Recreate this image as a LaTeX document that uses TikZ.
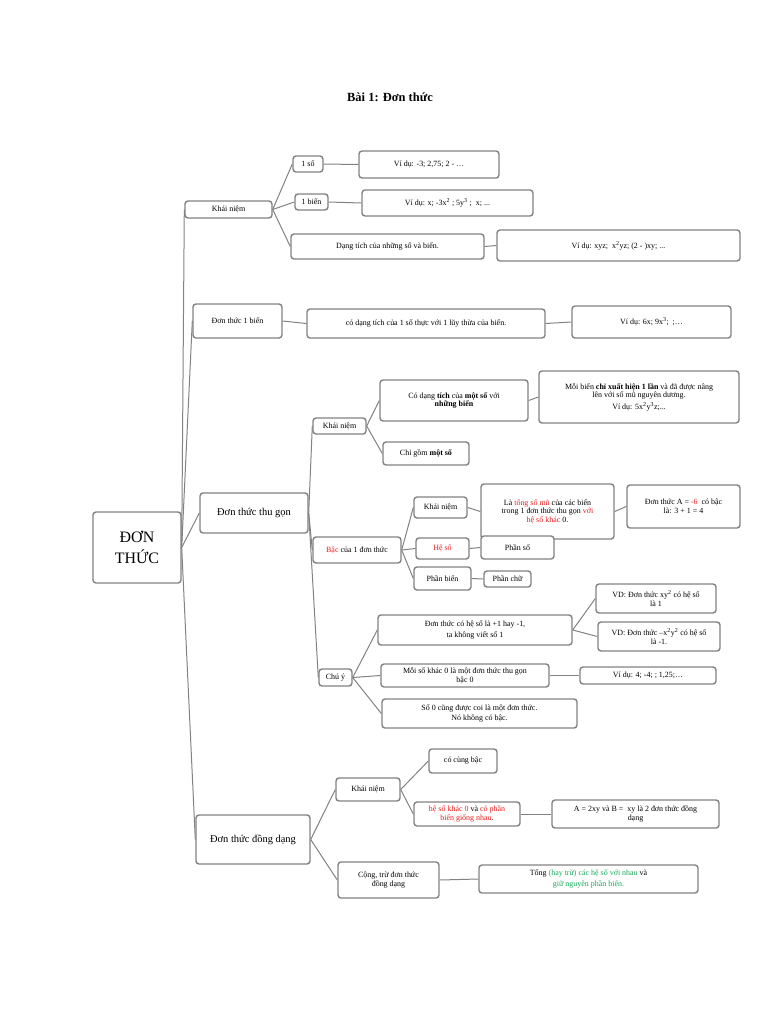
\documentclass[tikz,border=0pt]{standalone}
\usepackage{fontspec}
\setmainfont{Liberation Serif}
\definecolor{bd}{RGB}{130,130,130}
\definecolor{rr}{RGB}{235,30,30}
\definecolor{gg}{RGB}{20,170,90}
\newcommand{\bx}[7][]{\node[box,minimum width={(#5-#3)*1bp},minimum height={(#6-#4)*1bp},#1] (#2) at ({(#3+#5)/2},{(#4+#6)/2}) {#7};}
\newcommand{\rd}[1]{\textcolor{rr}{#1}}
\newcommand{\gn}[1]{\textcolor{gg}{#1}}
\begin{document}
\begin{tikzpicture}[x=1bp,y=-1bp,
 box/.style={draw=bd,line width=1.4bp,rounded corners=3bp,align=center,inner sep=1pt,font=\fontsize{8}{8.5}\selectfont,fill=white},
 big/.style={font=\fontsize{10.5}{12}\selectfont},
 ln/.style={draw=bd,line width=1bp}]
\useasboundingbox (0,0) rectangle (768,1024);
\node[font=\bfseries\fontsize{12.5}{14}\selectfont] (title) at (390,97) {Bài 1: Đơn thức};
\bx[font=\fontsize{16}{21}\selectfont]{root}{93}{512}{181}{583}{ĐƠN\\THỨC}
\bx{kn1}{185}{201}{272}{218}{Khái niệm}
\bx{so1}{293}{156}{323}{172}{1 số}
\bx{vd1}{359}{151}{499}{178}{Ví dụ: -3; 2,75; 2 - …}
\bx{bien1}{295}{194}{328}{210}{1 biến}
\bx{vd2}{362}{190}{533}{216}{Ví dụ: x; -3x\textsuperscript{2} ; 5y\textsuperscript{3} ;\ \ x; ...}
\bx{dang}{291}{234}{484}{259}{Dạng tích của những số và biến.}
\bx{vd3}{497}{230}{740}{261}{Ví dụ: xyz;\ \ x\textsuperscript{2}yz; (2 - )xy; ...}
\bx{dtb}{193}{304}{282}{338}{Đơn thức 1 biến}
\bx{codang}{307}{309}{545}{338}{có dạng tích của 1 số thực với 1 lũy thừa của biến.}
\bx{vd4}{572}{306}{731}{338}{Ví dụ: 6x; 9x\textsuperscript{3};\ \ ;…}
\bx[big]{dttg}{200}{493}{308}{533}{Đơn thức thu gọn}
\bx{kn2}{313}{418}{366}{434}{Khái niệm}
\bx{cdt}{380}{380}{528}{421}{Có dạng \textbf{tích} của \textbf{một số} với\\\textbf{những biến}}
\bx{moib}{539}{371}{739}{423}{Mỗi biến \textbf{chỉ xuất hiện 1 lần} và đã được nâng\\lên với số mũ nguyên dương.\\[2pt]Ví dụ: 5x\textsuperscript{2}y\textsuperscript{3}z;...}
\bx{chig}{383}{442}{469}{465}{Chỉ gồm \textbf{một số}}
\bx{bac}{313}{537}{401}{563}{\rd{Bậc} của 1 đơn thức}
\bx{kn3}{414}{497}{467}{518}{Khái niệm}
\bx{last}{481}{484}{614}{539}{Là \rd{tổng số mũ} của các biến\\trong 1 đơn thức thu gọn \rd{với}\\\rd{hệ số khác} 0.}
\bx{dta}{627}{485}{740}{528}{Đơn thức A = \rd{-6}\ \ có bậc\\là: 3 + 1 = 4}
\bx{heso}{416}{538}{469}{559}{\rd{Hệ số}}
\bx{phs}{481}{536}{554}{559}{Phần số}
\bx{phb}{414}{567}{471}{590}{Phần biến}
\bx{phc}{484}{571}{531}{587}{Phần chữ}
\bx{chuy}{319}{669}{352}{686}{Chú ý}
\bx{dtch}{378}{615}{572}{645}{Đơn thức có hệ số là +1 hay -1,\\[2pt]ta không viết số 1}
\bx{vd5}{596}{584}{716}{613}{VD: Đơn thức xy\textsuperscript{2} có hệ số\\là 1}
\bx{vd6}{598}{622}{720}{651}{VD: Đơn thức –x\textsuperscript{2}y\textsuperscript{2} có hệ số\\là -1.}
\bx{mois}{381}{664}{549}{687}{Mỗi số khác 0 là một đơn thức thu gọn\\bậc 0}
\bx{vd7}{580}{667}{716}{684}{Ví dụ: 4; -4; ; 1,25;…}
\bx{so0}{382}{699}{577}{728}{Số 0 cũng được coi là một đơn thức.\\[2pt]Nó không có bậc.}
\bx[big]{dtdd}{196}{815}{310}{864}{Đơn thức đồng dạng}
\bx{kn4}{336}{778}{400}{801}{Khái niệm}
\bx{cb}{429}{749}{497}{773}{có cùng bậc}
\bx{hsk}{414}{802}{520}{826}{\rd{hệ số khác 0} và \rd{có phần}\\\rd{biến giống nhau}.}
\bx{a2}{552}{800}{719}{828}{A = 2xy và B =\ \ xy là 2 đơn thức đồng\\dạng}
\bx{ct}{338}{862}{439}{898}{Cộng, trừ đơn thức\\đồng dạng}
\bx{tong}{479}{865}{698}{893}{Tổng \gn{(hay} \gn{trừ) các hệ số với nhau} và\\[2pt]\gn{giữ nguyên phần biến.}}
\foreach \a/\b in {root/kn1,root/dtb,root/dttg,root/dtdd,kn1/so1,kn1/bien1,kn1/dang,so1/vd1,bien1/vd2,dang/vd3,dtb/codang,codang/vd4,dttg/kn2,dttg/bac,dttg/chuy,kn2/cdt,kn2/chig,cdt/moib,bac/kn3,bac/heso,bac/phb,kn3/last,last/dta,heso/phs,phb/phc,chuy/dtch,chuy/mois,chuy/so0,dtch/vd5,dtch/vd6,mois/vd7,dtdd/kn4,dtdd/ct,kn4/cb,kn4/hsk,hsk/a2,ct/tong}
 \draw[ln] (\a.east) -- (\b.west);
\end{tikzpicture}
\end{document}
